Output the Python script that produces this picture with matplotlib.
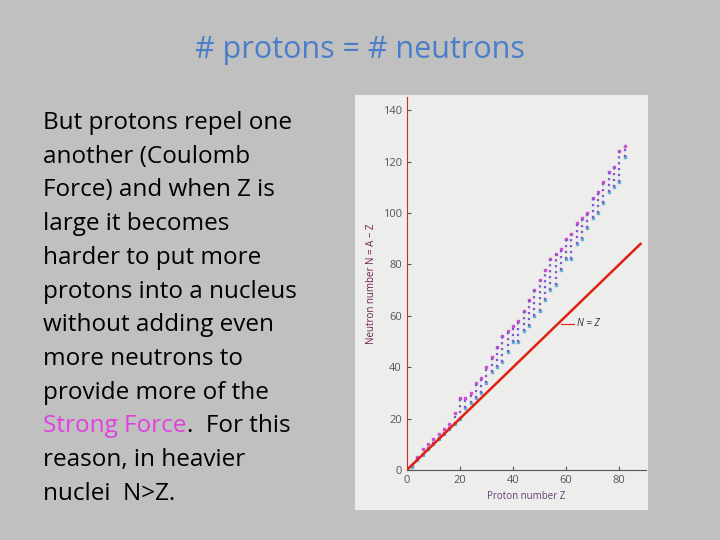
import matplotlib.pyplot as plt
from matplotlib.patches import Rectangle

# stable nuclei band: proton number and lowest / highest stable neutron number
z_vals = [2, 4, 6, 8, 10, 12, 14, 16, 18, 20, 22, 24, 26, 28, 30, 32, 34, 36, 38, 40, 42,
          44, 46, 48, 50, 52, 54, 56, 58, 60, 62, 64, 66, 68, 70, 72, 74, 76, 78, 80, 82]
n_low = [1, 4, 6, 8, 10, 12, 14, 16, 18, 20, 24, 26, 28, 30, 34, 38, 40, 42, 46, 50, 50,
         54, 56, 60, 62, 66, 70, 72, 78, 82, 82, 88, 90, 94, 98, 100, 104, 108, 110, 112, 122]
n_high = [2, 5, 8, 10, 12, 14, 16, 18, 22, 28, 28, 30, 34, 36, 40, 44, 48, 52, 54, 56, 58,
          62, 66, 70, 74, 78, 82, 84, 86, 90, 92, 96, 98, 100, 106, 108, 112, 116, 118, 124, 126]
line_z = [0, 88]
xticks = [0, 20, 40, 60, 80]
yticks = [0, 20, 40, 60, 80, 100, 120, 140]

body = ["But protons repel one", "another (Coulomb", "Force) and when Z is",
        "large it becomes", "harder to put more", "protons into a nucleus",
        "without adding even", "more neutrons to", "provide more of the",
        None, "reason, in heavier", "nuclei  N>Z."]

fig = plt.figure(figsize=(7.2, 5.4), dpi=100, facecolor="#c0c0c0")
plt.rcParams['font.family'] = ['Open Sans', 'DejaVu Sans']

fig.text(0.5, 0.907, "# protons = # neutrons", ha="center", va="center",
         fontsize=22, color="#4a7ec8")

y0 = 1 - 123 / 540
dy = 33.7 / 540
for i, line in enumerate(body):
    y = y0 - i * dy
    if line is None:
        t = fig.text(0.06, y, "Strong Force", ha="left", va="center",
                     fontsize=17.5, color="#e040e0")
        fig.canvas.draw()
        bb = t.get_window_extent()
        fig.text(bb.x1 / 720, y, ".  For this", ha="left", va="center",
                 fontsize=17.5, color="black")
    else:
        fig.text(0.06, y, line, ha="left", va="center", fontsize=17.5, color="black")

# the chart "paper"
fig.add_artist(Rectangle((0.493, 0.0556), 0.407, 0.769, transform=fig.transFigure,
                         facecolor="#ededeb", edgecolor="none", zorder=-1))

ax = fig.add_axes([0.565, 0.1296, 0.332, 0.69])
ax.set_zorder(2)
ax.set_facecolor("none")
ax.vlines(z_vals, n_low, n_high, colors="#7a5acc", linestyles=":", linewidth=1.6)
ax.scatter(z_vals, n_high, s=4, c="#d050d0", marker="s")
ax.scatter(z_vals, n_low, s=4, c="#60b0d0", marker="s")
ax.plot(line_z, line_z, color="#e02010", linewidth=1.8)
ax.plot([58, 63], [57, 57], color="#e02010", linewidth=0.8)
ax.text(64, 57, "N = Z", fontsize=7, style="italic", va="center", color="#333333")
ax.set_xlim(0, 90)
ax.set_ylim(0, 145)
ax.set_xticks(xticks)
ax.set_yticks(yticks)
ax.tick_params(labelsize=8, colors="#555555", direction="in", length=3)
for s in ["top", "right"]:
    ax.spines[s].set_visible(False)
ax.spines["left"].set_color("#c03030")
ax.spines["bottom"].set_color("#555555")
ax.set_xlabel("Proton number Z", fontsize=7, color="#604070")
ax.set_ylabel("Neutron number N = A \u2212 Z", fontsize=7, color="#702050")

fig.savefig("out.png", dpi=100, facecolor=fig.get_facecolor())
